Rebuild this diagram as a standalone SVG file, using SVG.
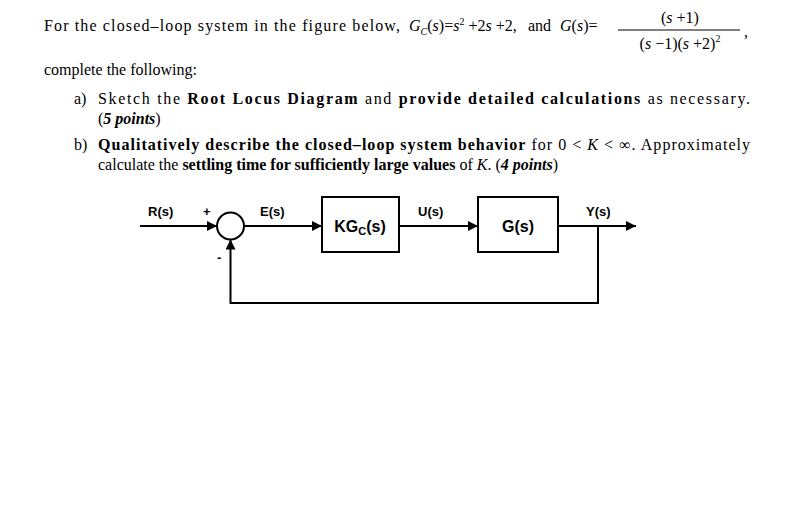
<svg xmlns="http://www.w3.org/2000/svg" width="802" height="518" viewBox="0 0 802 518">
<style>
.t{font-family:"Liberation Serif",serif;font-size:16px;fill:#000}
.i{font-style:italic}
.b{font-weight:bold}
.l{font-family:"Liberation Sans",Arial,sans-serif;font-weight:bold;font-size:13px}
.bl{font-family:"Liberation Sans",Arial,sans-serif;font-weight:bold;font-size:16px}
.w{stroke:#000;stroke-width:2;fill:none}
</style>
<defs>
<marker id="ar" viewBox="0 0 10 10" refX="10" refY="5" markerWidth="12" markerHeight="10" orient="auto" markerUnits="userSpaceOnUse"><path d="M0,0L10,5L0,10z"/></marker></defs>
<rect width="802" height="518" fill="#fff"/>
<g id="text">
<text class="t" x="44" y="31" textLength="356" lengthAdjust="spacing">For the closed–loop system in the figure below,</text>
<text class="t" x="409" y="31"><tspan class="i">G</tspan><tspan class="i" font-size="10" dy="4">C</tspan><tspan dy="-4">(</tspan><tspan class="i">s</tspan>)=<tspan class="i">s</tspan><tspan font-size="10" dy="-6">2</tspan><tspan dy="6"> +2</tspan><tspan class="i">s</tspan> +2,</text>
<text class="t" x="528" y="31">and</text>
<text class="t" x="560" y="31"><tspan class="i">G</tspan>(<tspan class="i">s</tspan>)=</text>
<text class="t" x="680" y="23" text-anchor="middle">(<tspan class="i">s</tspan> +1)</text>
<line x1="618" y1="30" x2="740" y2="30" stroke="#000" stroke-width="1"/>
<text class="t" x="680" y="49" text-anchor="middle">(<tspan class="i">s</tspan> −1)(<tspan class="i">s</tspan> +2)<tspan font-size="10" dy="-7">2</tspan></text>
<text class="t" x="744" y="37">,</text>
<text class="t" x="44" y="75">complete the following:</text>
<text class="t" x="74" y="104">a)</text>
<text class="t" x="98" y="104" textLength="652" lengthAdjust="spacing">Sketch the <tspan class="b">Root Locus Diagram</tspan> and <tspan class="b">provide detailed calculations</tspan> as necessary.</text>
<text class="t" x="98" y="124">(<tspan class="b i">5 points</tspan>)</text>
<text class="t" x="74" y="150">b)</text>
<text class="t" x="98" y="150" textLength="652" lengthAdjust="spacing"><tspan class="b">Qualitatively describe the closed–loop system behavior</tspan> for 0 &lt; <tspan class="i">K</tspan> &lt; ∞. Approximately</text>
<text class="t" x="98" y="170">calculate the <tspan class="b">settling time for sufficiently large values</tspan> of <tspan class="i">K</tspan>. (<tspan class="b i">4 points</tspan>)</text>
</g>
<g id="sum"><circle cx="230.5" cy="226" r="13.5" class="w" stroke-width="1.5"/></g>
<g id="kgc"><rect x="322" y="197" width="77" height="55" class="w" stroke-width="1.5"/><text class="bl" x="360" y="232" text-anchor="middle">KG<tspan font-size="11" dy="3">C</tspan><tspan dy="-3">(s)</tspan></text></g>
<g id="g"><rect x="478" y="197" width="80" height="55" class="w" stroke-width="1.5"/><text class="bl" x="518" y="232" text-anchor="middle">G(s)</text></g>
<g id="connectors" stroke="#000" stroke-width="2" fill="none">
<line x1="140" y1="226" x2="217" y2="226" marker-end="url(#ar)"/>
<line x1="244" y1="226" x2="322" y2="226" marker-end="url(#ar)"/>
<line x1="399" y1="226" x2="478" y2="226" marker-end="url(#ar)"/>
<line x1="558" y1="226" x2="636" y2="226" marker-end="url(#ar)"/>
<polyline points="598,226 598,303 230.5,303 230.5,239.5" marker-end="url(#ar)"/>
</g>
<g id="labels" class="l">
<text x="148" y="216">R(s)</text>
<text x="203" y="216">+</text>
<text x="260" y="216">E(s)</text>
<text x="418" y="216">U(s)</text>
<text x="586" y="216">Y(s)</text>
<text x="217" y="262">-</text>
</g>
</svg>
